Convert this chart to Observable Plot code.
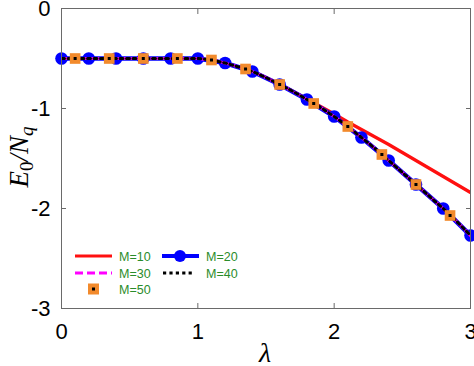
<!DOCTYPE html>
<html>
<head>
<meta charset="utf-8">
<script src="https://cdn.jsdelivr.net/npm/d3@7"></script>
<script src="https://cdn.jsdelivr.net/npm/@observablehq/plot@0.6"></script>
<style>
  html, body { margin: 0; padding: 0; background: white; }
</style>
</head>
<body>
<div id="chart"></div>
<script>
// ---- data ----
const xTicks = [0, 1, 2, 3];
const yTicks = [0, -1, -2, -3];

// dense grid used for the line series
const lamLine = [0,0.1,0.2,0.3,0.4,0.5,0.6,0.7,0.8,0.9,1.0,1.1,1.2,1.3,1.4,1.5,1.6,1.7,1.8,1.9,2.0,2.1,2.2,2.3,2.4,2.5,2.6,2.7,2.8,2.9,3.0];
const m10 = [-0.5,-0.5,-0.5,-0.5,-0.5,-0.5,-0.5,-0.5,-0.5,-0.5,-0.5,-0.515,-0.545,-0.585,-0.63,-0.69,-0.76,-0.83,-0.905,-0.98,-1.055,-1.135,-1.21,-1.285,-1.36,-1.44,-1.52,-1.6,-1.68,-1.76,-1.84];
const m30 = [-0.5,-0.5,-0.5,-0.5,-0.5,-0.5,-0.5,-0.5,-0.5,-0.5,-0.5,-0.515,-0.545,-0.585,-0.63,-0.69,-0.76,-0.83,-0.91,-0.99,-1.08,-1.18,-1.29,-1.40,-1.52,-1.64,-1.76,-1.88,-2.0,-2.13,-2.27];
const m40 = [-0.5,-0.5,-0.5,-0.5,-0.5,-0.5,-0.5,-0.5,-0.5,-0.5,-0.5,-0.515,-0.545,-0.585,-0.63,-0.69,-0.76,-0.83,-0.91,-0.99,-1.08,-1.18,-1.29,-1.40,-1.52,-1.64,-1.76,-1.88,-2.0,-2.13,-2.27];

// M=20: line with circle markers
const lam20 = [0,0.2,0.4,0.6,0.8,1.0,1.2,1.4,1.6,1.8,2.0,2.2,2.4,2.6,2.8,3.0];
const m20 = [-0.5,-0.5,-0.5,-0.5,-0.5,-0.5,-0.545,-0.63,-0.76,-0.91,-1.08,-1.29,-1.52,-1.76,-2.0,-2.27];

// M=50: square markers only
const lam50 = [0.1,0.35,0.6,0.85,1.1,1.35,1.6,1.85,2.1,2.35,2.6,2.85];
const m50 = [-0.5,-0.5,-0.5,-0.5,-0.515,-0.605,-0.76,-0.95,-1.18,-1.46,-1.76,-2.07];

const legendLabels = ["M=10", "M=20", "M=30", "M=40", "M=50"];

// ---- tables ----
const rows = (xs, ys) => xs.map((x, i) => ({x, y: ys[i]}));
const d10 = rows(lamLine, m10);
const d30 = rows(lamLine, m30);
const d40 = rows(lamLine, m40);
const d20 = rows(lam20, m20);
const d50 = rows(lam50, m50);

const gray = "#6a6a6a";
const green = "#2a8c2a";
const orange = "#f28a2c";

const chart = Plot.plot({
  width: 474,
  height: 366,
  marginLeft: 61,
  marginRight: 4,
  marginTop: 8,
  marginBottom: 58,
  style: {fontFamily: "'Liberation Sans', Arial, sans-serif", fontSize: "22px", background: "white", color: "black", overflow: "visible"},
  x: {domain: [0, 3]},
  y: {domain: [-3, 0]},
  marks: [
    Plot.line(d10, {x: "x", y: "y", stroke: "#ff1010", strokeWidth: 3.2, clip: true}),
    Plot.line(d20, {x: "x", y: "y", stroke: "#0000ff", strokeWidth: 4.6, clip: true}),
    Plot.dot(d20, {x: "x", y: "y", r: 6.3, fill: "#0000ff", stroke: "none"}),
    Plot.line(d30, {x: "x", y: "y", stroke: "#ff00ff", strokeWidth: 3, strokeDasharray: "7,3", clip: true}),
    Plot.line(d40, {x: "x", y: "y", stroke: "black", strokeWidth: 3, strokeDasharray: "3,3.5", clip: true}),
    Plot.dot(d50, {x: "x", y: "y", symbol: "square", r: 6, fill: orange, stroke: "none"}),
    Plot.dot(d50, {x: "x", y: "y", symbol: "square", r: 1.7, fill: "black", stroke: "none"}),
    Plot.frame({stroke: gray, strokeWidth: 1}),
    Plot.axisX(xTicks, {anchor: "bottom", tickSize: -5, tickPadding: 20, stroke: gray, fill: "black", tickFormat: d => String(d), label: null}),
    Plot.axisX(xTicks, {anchor: "top", tickSize: -5, stroke: gray, tickFormat: () => "", label: null}),
    Plot.axisY(yTicks, {anchor: "left", tickSize: -5, tickPadding: 16, stroke: gray, fill: "black", tickFormat: d => String(d), label: null}),
    Plot.axisY(yTicks, {anchor: "right", tickSize: -5, stroke: gray, tickFormat: () => "", label: null})
  ]
});

document.getElementById("chart").appendChild(chart);

// ---- axis titles (math italic) ----
const svg = d3.select(chart);
const serif = "'Liberation Serif', 'Times New Roman', serif";
const ylab = svg.append("text")
  .attr("transform", "translate(28,157) rotate(-90)")
  .attr("text-anchor", "middle")
  .attr("font-family", serif)
  .attr("font-style", "italic")
  .attr("font-size", 27)
  .attr("fill", "black");
ylab.append("tspan").text("E");
ylab.append("tspan").attr("font-size", 19).attr("font-style", "normal").attr("dy", 5).text("0");
ylab.append("tspan").attr("dy", -5).text("/N");
ylab.append("tspan").attr("font-size", 19).attr("dy", 5).text("q");

svg.append("text")
  .attr("x", 265).attr("y", 362)
  .attr("text-anchor", "middle")
  .attr("font-family", serif)
  .attr("font-style", "italic")
  .attr("font-size", 28)
  .attr("fill", "black")
  .text("λ");

// ---- legend (inside plot, lower-left) ----
const lg = svg.append("g")
  .attr("font-family", "'Liberation Sans', Arial, sans-serif")
  .attr("font-size", 12.5)
  .attr("text-anchor", "start")
  .attr("fill", green);
const rowY = [256, 273, 289];
// M=10
lg.append("line").attr("x1", 75).attr("x2", 112).attr("y1", rowY[0]).attr("y2", rowY[0]).attr("stroke", "#ff1010").attr("stroke-width", 3.2);
lg.append("text").attr("x", 119).attr("y", rowY[0]).attr("dy", "0.36em").text(legendLabels[0]);
// M=20
lg.append("line").attr("x1", 162).attr("x2", 199).attr("y1", rowY[0]).attr("y2", rowY[0]).attr("stroke", "#0000ff").attr("stroke-width", 4);
lg.append("circle").attr("cx", 180).attr("cy", rowY[0]).attr("r", 6).attr("fill", "#0000ff");
lg.append("text").attr("x", 206).attr("y", rowY[0]).attr("dy", "0.36em").text(legendLabels[1]);
// M=30
lg.append("line").attr("x1", 75).attr("x2", 112).attr("y1", rowY[1]).attr("y2", rowY[1]).attr("stroke", "#ff00ff").attr("stroke-width", 3.2).attr("stroke-dasharray", "8,4");
lg.append("text").attr("x", 119).attr("y", rowY[1]).attr("dy", "0.36em").text(legendLabels[2]);
// M=40
lg.append("line").attr("x1", 163).attr("x2", 195).attr("y1", rowY[1]).attr("y2", rowY[1]).attr("stroke", "black").attr("stroke-width", 3.2).attr("stroke-dasharray", "3.2,3.2");
lg.append("text").attr("x", 206).attr("y", rowY[1]).attr("dy", "0.36em").text(legendLabels[3]);
// M=50
lg.append("rect").attr("x", 88).attr("y", rowY[2] - 5.5).attr("width", 11).attr("height", 11).attr("fill", orange);
lg.append("rect").attr("x", 92).attr("y", rowY[2] - 1.5).attr("width", 3).attr("height", 3).attr("fill", "black");
lg.append("text").attr("x", 119).attr("y", rowY[2]).attr("dy", "0.36em").text(legendLabels[4]);
</script>
</body>
</html>
